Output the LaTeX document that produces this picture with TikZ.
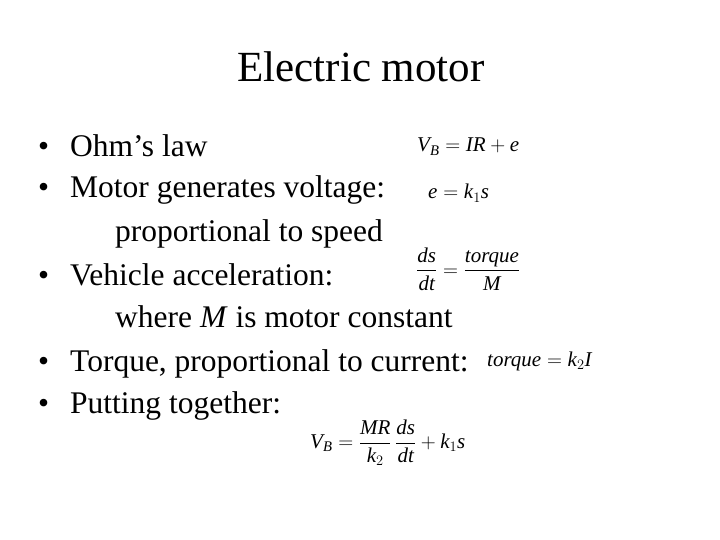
\documentclass[tikz,border=0pt]{standalone}
\usepackage{amsmath}
\usepackage{fontspec}
\setmainfont{Liberation Serif}
\newcommand{\vi}[1]{\textit{#1}}
\begin{document}
\begin{tikzpicture}[x=1pt,y=-1pt,
  body/.style={anchor=base west,inner sep=0pt,font=\fontsize{31.5}{34}\selectfont},
  bul/.style={anchor=base west,inner sep=0pt,font=\fontsize{31.5}{34}\selectfont},
  eq/.style={anchor=base west,inner sep=0pt,font=\fontsize{21}{24}\selectfont}]
\useasboundingbox (0,0) rectangle (720,540);
\node[anchor=base,inner sep=0pt,font=\fontsize{43}{46}\selectfont] (title) at (361,82) {Electric motor};
\node[bul] (b1) at (38,157) {•}; \node[body] (t1) at (70,157) {Ohm’s law};
\node[bul] (b2) at (38,197) {•}; \node[body] (t2) at (70,197) {Motor generates voltage:};
\node[body] (t3) at (115,241) {proportional to speed};
\node[bul] (b4) at (38,285) {•}; \node[body] (t4) at (70,285) {Vehicle acceleration:};
\node[body] (t5) at (115,327) {where \textit{M} is motor constant};
\node[bul] (b6) at (38,371) {•}; \node[body] (t6) at (70,371) {Torque, proportional to current:};
\node[bul] (b7) at (38,413) {•}; \node[body] (t7) at (70,413) {Putting together:};
\node[eq] (e1) at (417,152) {$\vi{V}_{\vi{B}} = \vi{IR} + \vi{e}$};
\node[eq] (e2) at (428,199) {$\vi{e} = \vi{k}_{1}\vi{s}$};
\node[eq,anchor=west] (e3) at (416,269) {$\dfrac{\vi{ds}}{\vi{dt}} = \dfrac{\vi{torque}}{\vi{M}}$};
\node[eq] (e4) at (487,366) {$\vi{torque} = \vi{k}_{2}\vi{I}$};
\node[eq,anchor=west] (e5) at (310,443) {$\vi{V}_{\vi{B}} = \dfrac{\vi{MR}}{\vi{k}_{2}}\,\dfrac{\vi{ds}}{\vi{dt}} + \vi{k}_{1}\vi{s}$};
\end{tikzpicture}
\end{document}
